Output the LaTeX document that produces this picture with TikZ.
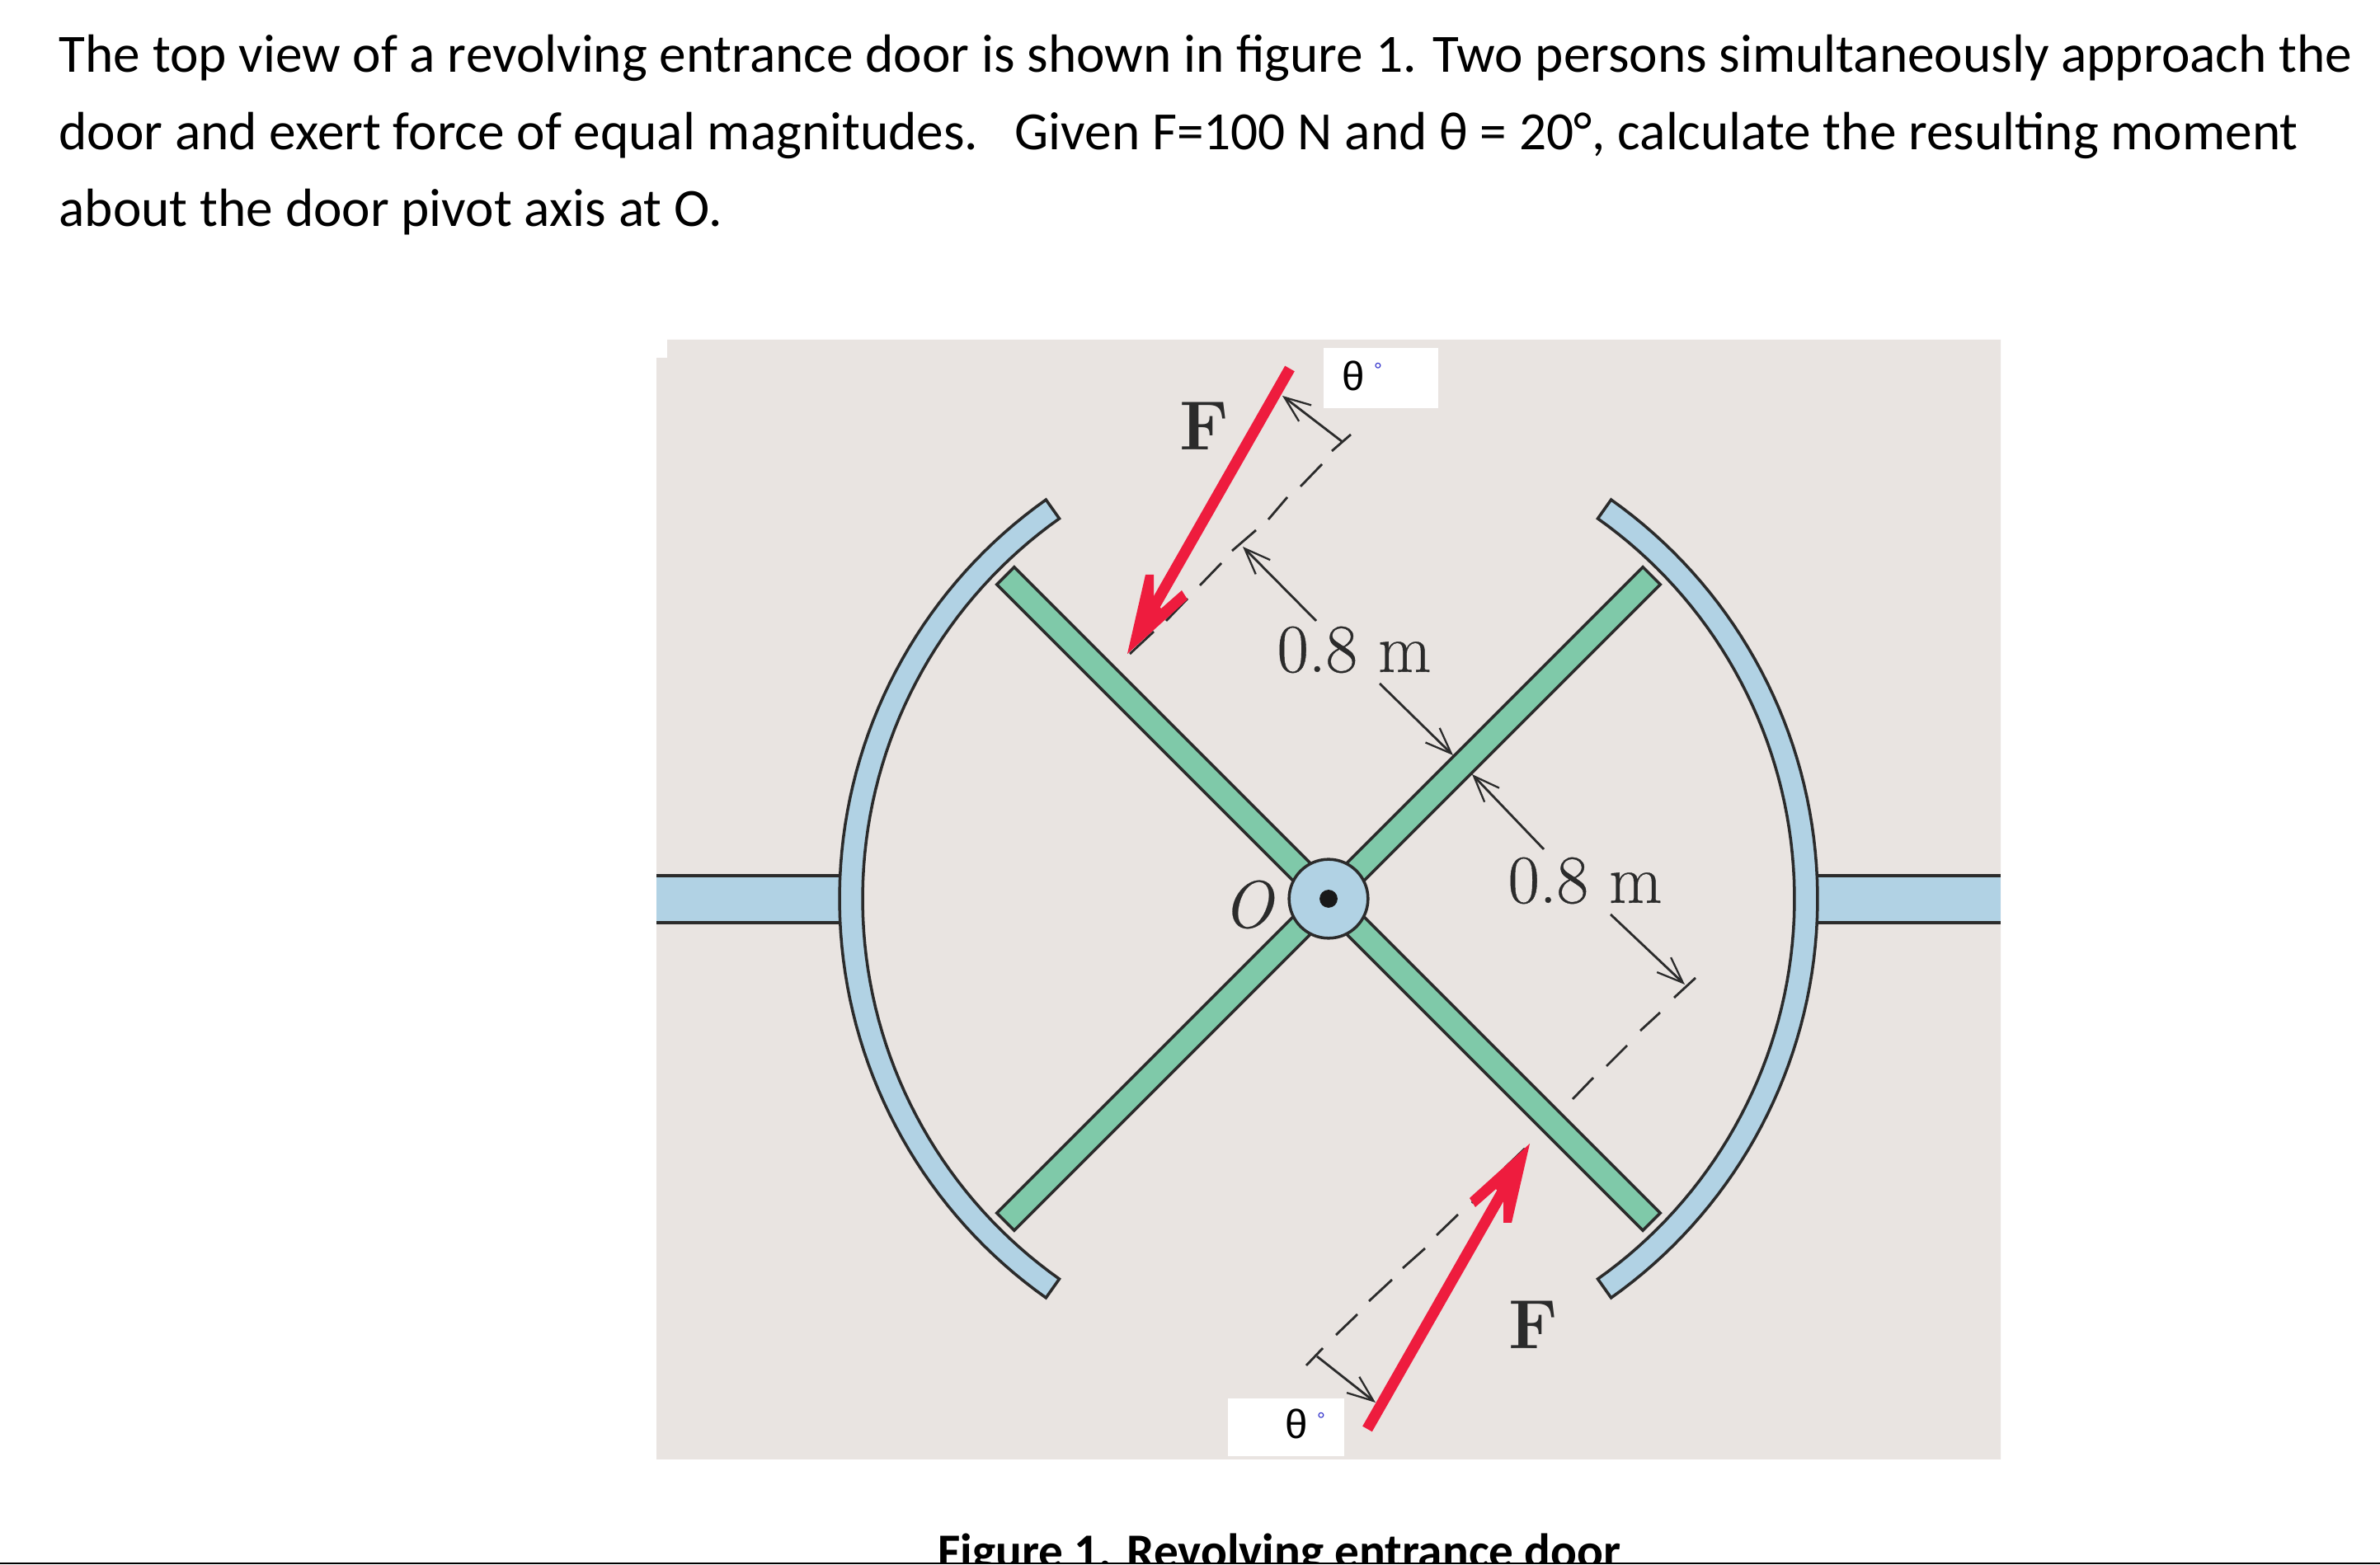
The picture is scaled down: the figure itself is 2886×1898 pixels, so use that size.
\documentclass[tikz,border=0pt]{standalone}
\usepackage{fontspec}
\setmainfont{Latin Modern Roman}
\newfontfamily\carlito{Carlito}
\newfontfamily\symfont{Liberation Sans}
\usetikzlibrary{arrows.meta}
\definecolor{bgc}{HTML}{E9E4E1}
\definecolor{blu}{HTML}{B1D2E4}
\definecolor{grn}{HTML}{7FC9A9}
\definecolor{rdc}{HTML}{EE1C3E}
\definecolor{ink}{HTML}{2B2B2B}
\tikzset{
  para/.style={anchor=base west,inner sep=0pt,font=\carlito\fontsize{18.57pt}{22pt}\selectfont,text=black},
  outl/.style={draw=ink,line width=1pt},
  door/.style={outl,fill=grn},
  curved/.style={outl,fill=blu},
  dimline/.style={draw=ink,line width=0.8pt},
  dimarrow/.style={dimline,-{Straight Barb[length=9pt,width=7pt,line width=0.65pt]}},
  forcearrow/.style={draw=rdc,line width=3.8pt},
  lbl/.style={inner sep=0pt,text=ink,font=\addfontfeature{FakeBold=0.5}\fontsize{23.7pt}{26pt}\selectfont},
  flabel/.style={inner sep=0pt,text=ink,font=\fontsize{24pt}{26pt}\selectfont\bfseries},
  thetalabel/.style={inner sep=0pt,text=black,font=\symfont\fontsize{14pt}{16pt}\selectfont},
  deglabel/.style={inner sep=0pt,text=blue!60!gray,font=\symfont\fontsize{7pt}{8pt}\selectfont}
}
\begin{document}
\begin{tikzpicture}[x=0.01cm,y=-0.01cm]
\useasboundingbox (0,0) rectangle (2886,1898);
\fill[white] (0,0) rectangle (2886,1898);
% statement
\node[para] (l1) at (71,88) {The top view of a revolving entrance door is shown in figure 1. Two persons simultaneously approach the};
\node[para] (l2) at (71,182) {door and exert force of equal magnitudes.\ \ \ Given F=100 N and θ = 20°, calculate the resulting moment};
\node[para] (l3) at (71,275) {about the door pivot axis at O.};
% backdrop
\fill[bgc] (796,434) -- (809,434) -- (809,412) -- (2426,412) -- (2426,1770) -- (796,1770) -- cycle;
% walls
\fill[blu] (796,1062) rectangle (1030,1119);
\fill[blu] (2190,1062) rectangle (2426,1119);
\draw[outl,line width=1.2pt] (796,1062) -- (1030,1062) (796,1119) -- (1030,1119) (2190,1062) -- (2426,1062) (2190,1119) -- (2426,1119);
\coordinate (O) at (1611,1090);
% door leaves
\begin{scope}[shift={(O)}]
\foreach \a in {45,135,225,315}{
  \draw[door,rotate=\a] (0,-15) -- (554,-15) -- (554,15) -- (0,15) -- cycle;
}
% curved walls
\draw[curved] plot[domain=125.3:234.7,samples=70] ({593*cos(\x)},{593*sin(\x)})
  -- plot[domain=234.7:125.3,samples=70] ({565*cos(\x)},{565*sin(\x)}) -- cycle;
\draw[curved] plot[domain=-54.7:54.7,samples=70] ({593*cos(\x)},{593*sin(\x)})
  -- plot[domain=54.7:-54.7,samples=70] ({565*cos(\x)},{565*sin(\x)}) -- cycle;
\end{scope}
% hub
\node[circle,draw=ink,fill=blu,line width=1pt,minimum size=27.2pt,inner sep=0pt] (hub) at (O) {};
\node[circle,fill=black!90,minimum size=6.2pt,inner sep=0pt] (pin) at (O) {};
% dashed lines (drawn as explicit dash pieces)
\draw[dimline] (1638,527)--(1615,547) (1603,563)--(1577,590) (1561,603)--(1538,630)
  (1523,643)--(1494,668) (1481,683)--(1455,710) (1440,726)--(1414,753) (1399,766)--(1370,793);
\draw[dimline] (2056,1186)--(2030,1210) (2013,1228)--(1989,1250) (1973,1268)--(1948,1293) (1932,1307)--(1907,1333);
\draw[dimline] (1849,1393)--(1825,1416) (1809,1431)--(1785,1459) (1768,1473)--(1742,1498)
  (1728,1514)--(1701,1538) (1688,1552)--(1660,1578) (1646,1594)--(1620,1619) (1604,1635)--(1584,1656);
% dimension arrows
\coordinate (t1a) at (1628,536); \coordinate (t1b) at (1555,480);
\coordinate (t2a) at (1596,753); \coordinate (t2b) at (1507,663);
\coordinate (t3a) at (1673,829); \coordinate (t3b) at (1762,916);
\coordinate (t4a) at (1872,1030); \coordinate (t4b) at (1785,939);
\coordinate (t5a) at (1953,1109); \coordinate (t5b) at (2043,1194);
\coordinate (t6a) at (1597,1645); \coordinate (t6b) at (1668,1701);
\draw[dimarrow] (t1a) -- (t1b);
\draw[dimarrow] (t2a) -- (t2b);
\draw[dimarrow] (t3a) -- (t3b);
\draw[dimarrow] (t4a) -- (t4b);
\draw[dimarrow] (t5a) -- (t5b);
\draw[dimarrow] (t6a) -- (t6b);
% force arrows
\coordinate (f1a) at (1564,447); \coordinate (f1b) at (1385,761);
\coordinate (f2a) at (1658,1733); \coordinate (f2b) at (1837,1419);
\draw[forcearrow] (f1a) -- (f1b);
\fill[rdc] (1367,793) -- (1389,697) -- (1399,697) -- (1399,727) -- (1408,738) -- (1433,716) -- (1440,727) -- cycle;
\draw[forcearrow] (f2a) -- (f2b);
\fill[rdc] (1855,1387) -- (1833,1483) -- (1823,1483) -- (1823,1453) -- (1814,1442) -- (1789,1464) -- (1782,1453) -- cycle;
% white patches
\fill[white] (1605,422) rectangle (1744,495);
\fill[white] (1489,1696) rectangle (1630,1766);
% labels
\node[thetalabel] (th1) at (1641,456) {θ};
\node[deglabel] (dg1) at (1671,449) {°};
\node[thetalabel] (th2) at (1572,1727) {θ};
\node[deglabel] (dg2) at (1602,1722) {°};
\node[flabel] (F1) at (1460,517) {F};
\node[flabel] (F2) at (1859,1607) {F};
\node[lbl] (d1) at (1642,788) {0.8 m};
\node[lbl] (d2) at (1922,1068) {0.8 m};
\node[lbl,font=\addfontfeature{FakeBold=0.3}\fontsize{23pt}{26pt}\selectfont\itshape] (oo) at (1513,1097) {O};
% caption, clipped by the page rule
\begin{scope}
\clip (0,0) rectangle (2886,1895);
\node[anchor=base west,inner sep=0pt,font=\carlito\fontsize{16.85pt}{20pt}\selectfont\bfseries] (cap) at (1137,1902) {Figure 1. Revolving entrance door};
\end{scope}
\draw[black,line width=0.6pt] (0,1896) -- (2886,1896);
\end{tikzpicture}
\end{document}
